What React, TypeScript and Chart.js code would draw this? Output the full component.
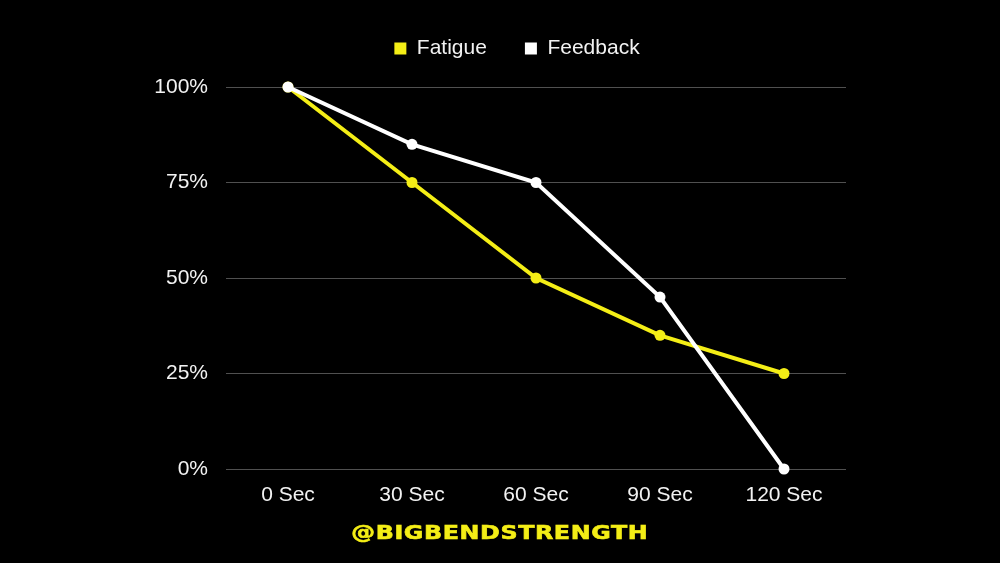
import React, { useEffect, useRef } from 'react';
import { Chart, registerables } from 'chart.js';

Chart.register(...registerables);

// --- data ---
const categories = ['0 Sec', '30 Sec', '60 Sec', '90 Sec', '120 Sec'];
const fatigueValues = [100, 75, 50, 35, 25];
const feedbackValues = [100, 85, 75, 45, 0];
const yTicks = [0, 25, 50, 75, 100];

const YELLOW = '#f4ee16';
const WHITE = '#ffffff';
const FONT = "'Liberation Sans', Arial, sans-serif";

// legend gets a fixed height (plot starts at y=87) and is centred a bit right, like the reference
const legendPlacement = {
  id: 'legendPlacement',
  beforeInit(chart: any) {
    const fit = chart.legend.fit;
    chart.legend.fit = function () {
      fit.bind(chart.legend)();
      this.height = 87;
    };
  },
  beforeDraw(chart: any) {
    const lg = chart.legend;
    if (!lg) return;
    lg.left = 188;
    lg.right = 846;
    lg.width = lg.right - lg.left;
  },
};

export default function App() {
  const canvasRef = useRef<HTMLCanvasElement | null>(null);
  const chartRef = useRef<Chart | null>(null);

  useEffect(() => {
    if (!canvasRef.current) return;
    if (chartRef.current) chartRef.current.destroy();

    chartRef.current = new Chart(canvasRef.current, {
      type: 'line',
      data: {
        labels: categories,
        datasets: [
          {
            label: 'Fatigue',
            data: fatigueValues,
            borderColor: YELLOW,
            backgroundColor: YELLOW,
            borderWidth: 4,
            pointRadius: 5.5,
            pointBackgroundColor: YELLOW,
            pointBorderWidth: 0,
            tension: 0,
            clip: false,
            order: 2,
          },
          {
            label: 'Feedback',
            data: feedbackValues,
            borderColor: WHITE,
            backgroundColor: WHITE,
            borderWidth: 4,
            pointRadius: 5.5,
            pointBackgroundColor: WHITE,
            pointBorderWidth: 0,
            tension: 0,
            clip: false,
            order: 1, // drawn on top
          },
        ],
      },
      options: {
        animation: false,
        responsive: false,
        maintainAspectRatio: false,
        layout: { padding: { left: 0, right: 154, top: 0, bottom: 0 } },
        scales: {
          x: {
            offset: true,
            grid: { display: false, drawTicks: false },
            border: { display: false },
            ticks: { color: '#f2f2f2', font: { family: FONT, size: 21 }, padding: 14 },
            afterFit: (scale: any) => {
              scale.height = 94;
            },
          },
          y: {
            min: 0,
            max: 100,
            afterBuildTicks: (scale: any) => {
              scale.ticks = yTicks.map((v) => ({ value: v }));
            },
            grid: { color: '#505050', lineWidth: 1, drawTicks: false },
            border: { display: false },
            ticks: {
              color: '#f2f2f2',
              font: { family: FONT, size: 21 },
              padding: 18,
              callback: (v: any) => `${v}%`,
            },
            afterFit: (scale: any) => {
              scale.width = 226;
            },
          },
        },
        plugins: {
          legend: {
            position: 'top',
            labels: {
              color: '#f2f2f2',
              font: { family: FONT, size: 21 },
              boxWidth: 12,
              boxHeight: 12,
              padding: 38,
              sort: (a: any, b: any) => a.datasetIndex - b.datasetIndex,
              generateLabels: (chart: any) =>
                chart.data.datasets.map((ds: any, i: number) => ({
                  text: ds.label,
                  fillStyle: ds.borderColor,
                  strokeStyle: ds.borderColor,
                  lineWidth: 0,
                  fontColor: '#f2f2f2',
                  hidden: false,
                  datasetIndex: i,
                })),
            },
          },
          tooltip: { enabled: false },
        },
      },
      plugins: [legendPlacement],
    });

    return () => {
      if (chartRef.current) {
        chartRef.current.destroy();
        chartRef.current = null;
      }
    };
  }, []);

  return (
    <div style={{ position: 'fixed', inset: 0, background: '#000' }}>
      <div style={{ position: 'absolute', left: 0, top: 0, width: 1000, height: 563 }}>
        <canvas ref={canvasRef} width={1000} height={563} style={{ display: 'block' }} />
        <div
          style={{
            position: 'absolute',
            left: 0,
            width: 1000,
            top: 519,
            textAlign: 'center',
            color: YELLOW,
            fontFamily: "'DejaVu Sans', sans-serif",
            fontWeight: 'bold',
            fontSize: 19,
            lineHeight: '26px',
            letterSpacing: 0.5,
          }}
        >
          <span style={{ display: 'inline-block', transform: 'scaleX(1.25)', WebkitTextStroke: '0.6px ' + YELLOW }}>
            @BIGBENDSTRENGTH
          </span>
        </div>
      </div>
    </div>
  );
}
